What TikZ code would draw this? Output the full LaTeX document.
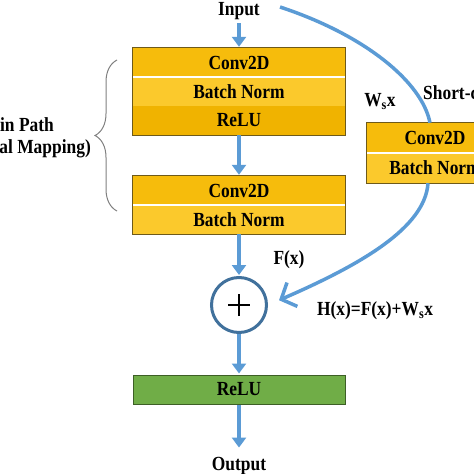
\documentclass[tikz,border=0pt]{standalone}
\usepackage{fontspec}
\setmainfont{Liberation Serif}[FakeStretch=0.87]
\usepackage{tikz}
\usetikzlibrary{arrows.meta, decorations.pathreplacing}
\usepackage[dvipsnames]{xcolor}
\definecolor{flow}{HTML}{5B9BD5}
\definecolor{ring}{HTML}{41719C}
\definecolor{gold}{HTML}{F6BC0C}
\definecolor{goldlt}{HTML}{FBC92C}
\definecolor{golddk}{HTML}{F0B300}
\definecolor{rim}{HTML}{6E5A1A}
\definecolor{leaf}{HTML}{70AD47}
\definecolor{leafdk}{HTML}{3D5F26}

\begin{document}
\begin{tikzpicture}[
                x = 1pt, y = -1pt,
                font = \bfseries\fontsize{20}{22}\selectfont,
                T/.style = {inner sep=0pt, anchor=base},
                L/.style = {minimum width=212pt, minimum height=29pt, inner sep=0pt},
                S/.style = {minimum width=136pt, minimum height=30pt, inner sep=0pt},
                A/.style = {flow, line width=3.5pt, -{Triangle[length=10pt, width=14pt]}},
                C/.style = {flow, line width=3.5pt}
                    ]
                \useasboundingbox (0,0) rectangle (474,474);
                \clip (0,0) rectangle (474,474);
                % main path
                \node[T] (in) at (239,15) {Input};
                \begin{scope}[nodes=L]
                \node[fill=gold] (c1) at (239,62.5) {Conv2D};
                \node[fill=goldlt] (b1) at (239,91.5) {Batch Norm};
                \node[fill=golddk] (r1) at (239,120.5) {ReLU};
                \node[fill=gold] (c2) at (239,190.5) {Conv2D};
                \node[fill=goldlt] (b2) at (239,219.5) {Batch Norm};
                \end{scope}
                \draw[white, line width=1.5pt] (c1.south west) -- (c1.south east);
                \draw[white, line width=1.5pt] (c2.south west) -- (c2.south east);
                \draw[rim, line width=1pt] (c1.north west) rectangle (r1.south east);
                \draw[rim, line width=1pt] (c2.north west) rectangle (b2.south east);
                \node[circle, draw=ring, line width=3pt, minimum size=55pt, fill=white] (add) at (239,305) {};
                \draw[line width=2.5pt] ([xshift=-11pt]add.center) -- ([xshift=11pt]add.center);
                \draw[line width=2.5pt] ([yshift=-11pt]add.center) -- ([yshift=11pt]add.center);
                \node[L, fill=leaf, draw=leafdk, line width=1pt] (rl) at (239,389.5) {ReLU};
                \node[T] (out) at (239,470) {Output};
                \draw[A, shorten <=4pt, shorten >=1pt] (in) -- (c1);
                \draw[A, shorten >=1pt] (r1) -- (c2);
                \draw[A, shorten >=1pt] (b2) -- (add);
                \draw[A, shorten >=1pt] (add) -- (rl);
                \draw[A, shorten >=9pt] (rl) -- (out);
                % short-cut path
                \begin{scope}[nodes=S]
                \node[fill=gold] (sc1) at (435,138) {Conv2D};
                \node[fill=goldlt] (sc2) at (435,168) {Batch Norm};
                \end{scope}
                \draw[white, line width=1.5pt] (sc1.south west) -- (sc1.south east);
                \draw[rim, line width=1pt] (sc1.north west) rectangle (sc2.south east);
                \coordinate (s0) at (280,7);
                \draw[C] (s0) .. controls (365,35) and (422,82) .. ([xshift=-5pt]sc1.north);
                \draw[C, -{Straight Barb[length=12pt, width=26pt]}, shorten >=12pt]
                    ([xshift=-7pt]sc2.south) .. controls (425,228) and (360,265) .. (add.east);
                % labels
                \draw[gray, line width=1pt, decorate, decoration={brace, amplitude=22pt}] (117,211) -- (117,60);
                \node[T, anchor=base east] (mp1) at (54,131) {in Path};
                \node[T, anchor=base east] (mp2) at (91,153) {al Mapping)};
                \node[T] (fx) at (289,264) {F(x)};
                \node[T] (hx) at (375,315) {H(x)=F(x)+W\textsubscript{s}x};
                \node[T] (wx) at (380,106) {W\textsubscript{s}x};
                \node[T, anchor=base west] (sc) at (423,99) {Short-c};
            \end{tikzpicture}
\end{document}
